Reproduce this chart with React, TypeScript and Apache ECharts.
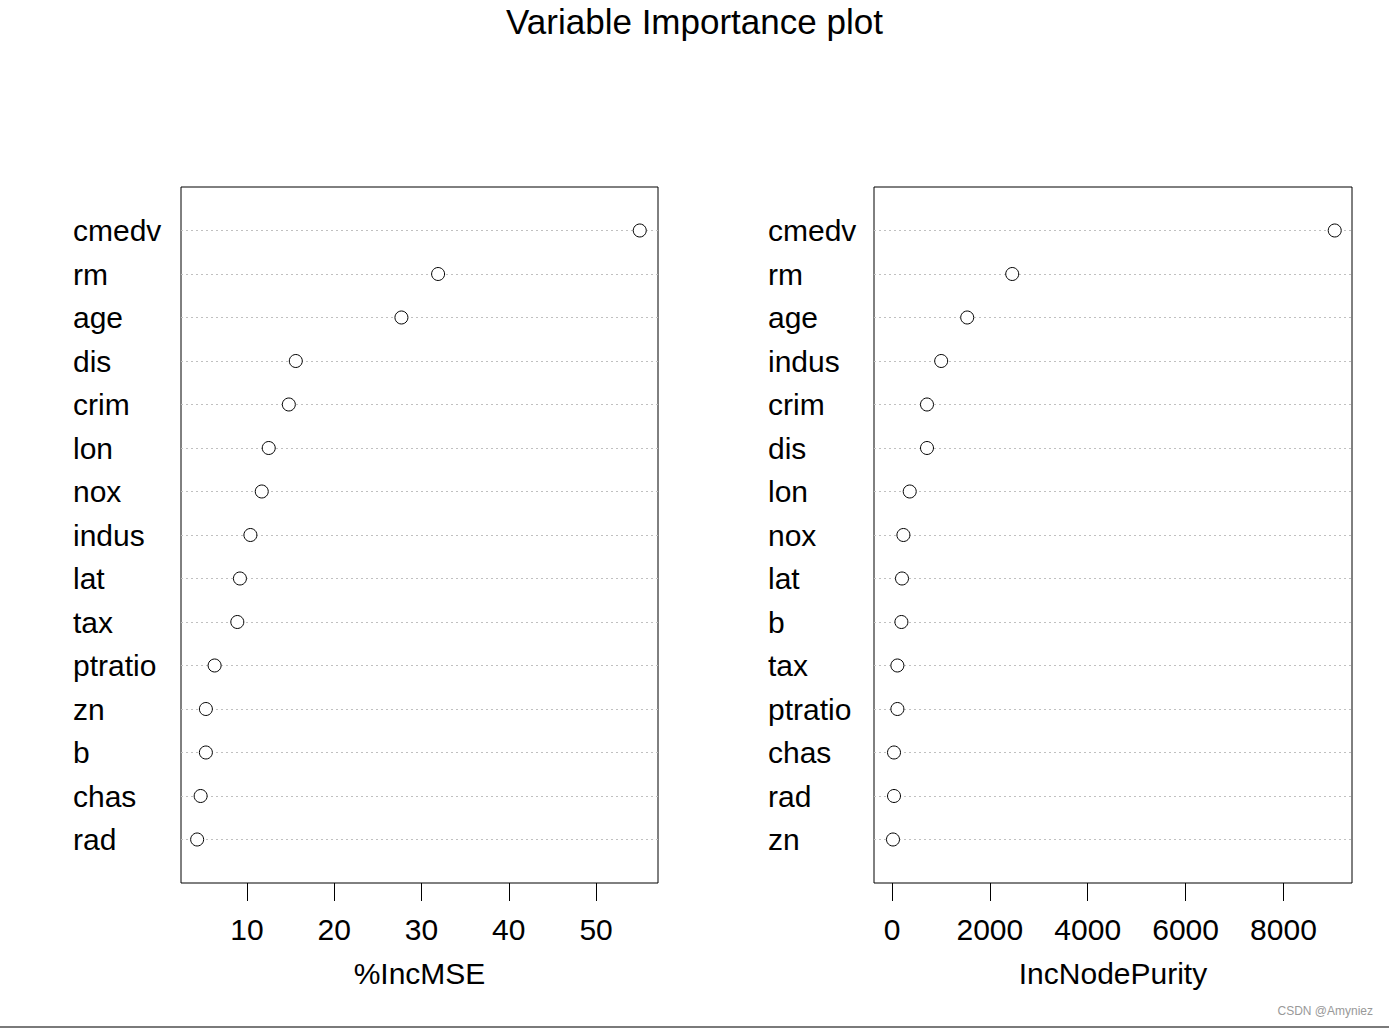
import React, { useEffect, useRef } from "react";
import * as echarts from "echarts";

const leftNames = ["cmedv", "rm", "age", "dis", "crim", "lon", "nox", "indus", "lat", "tax", "ptratio", "zn", "b", "chas", "rad"];
const leftValues = [55.0, 31.9, 27.7, 15.6, 14.8, 12.5, 11.7, 10.4, 9.2, 8.9, 6.3, 5.3, 5.3, 4.7, 4.3];
const rightNames = ["cmedv", "rm", "age", "indus", "crim", "dis", "lon", "nox", "lat", "b", "tax", "ptratio", "chas", "rad", "zn"];
const rightValues = [9048, 2457, 1537, 1005, 715, 715, 362, 233, 204, 192, 110, 110, 41, 41, 20];
const leftTicks = [10, 20, 30, 40, 50];
const rightTicks = [0, 2000, 4000, 6000, 8000];
const leftTitle = "%IncMSE";
const rightTitle = "IncNodePurity";
const mainTitle = "Variable Importance plot";

const FONT = "Liberation Sans, Arial, sans-serif";

function xAxisCfg(grid: number, min: number, max: number, ticks: number[], name: string) {
  return {
    type: "value",
    gridIndex: grid,
    min,
    max,
    name,
    nameLocation: "middle",
    nameGap: 75,
    nameTextStyle: { fontSize: 30, color: "#000", fontFamily: FONT, lineHeight: 30 },
    axisLine: { show: false },
    splitLine: { show: false },
    axisTick: { show: true, length: 18, customValues: ticks, lineStyle: { color: "#000", width: 1 } },
    axisLabel: {
      customValues: ticks,
      fontSize: 30,
      color: "#000",
      fontFamily: FONT,
      margin: 31,
      lineHeight: 30,
      formatter: (v: number) => String(v),
    },
  };
}

function yAxisCfg(grid: number, names: string[], margin: number) {
  return {
    type: "value",
    gridIndex: grid,
    min: 0,
    max: 16,
    interval: 1,
    axisLine: { show: false },
    axisTick: { show: false },
    splitLine: {
      show: true,
      showMinLine: false,
      showMaxLine: false,
      lineStyle: { color: "#c0c0c0", type: [2, 3], width: 1 },
    },
    axisLabel: {
      align: "left",
      margin,
      fontSize: 30,
      color: "#000",
      fontFamily: FONT,
      lineHeight: 30,
      padding: [7, 0, 0, 0],
      formatter: (v: number) => (v >= 1 && v <= 15 ? names[15 - v] : ""),
    },
  };
}

function seriesCfg(idx: number, values: number[]) {
  return {
    type: "scatter",
    xAxisIndex: idx,
    yAxisIndex: idx,
    symbol: "circle",
    symbolSize: 13,
    itemStyle: { color: "#fff", borderColor: "#000", borderWidth: 1, opacity: 1 },
    emphasis: { disabled: true },
    data: values.map((v, i) => [v, 15 - i]),
  };
}

export default function App() {
  const ref = useRef<HTMLDivElement>(null);
  useEffect(() => {
    if (!ref.current) return;
    const chart = echarts.init(ref.current, undefined, { renderer: "svg" });
    chart.setOption({
      animation: false,
      backgroundColor: "#fff",
      title: {
        text: mainTitle,
        left: "center",
        top: -1,
        textStyle: { fontSize: 35, fontWeight: "normal", color: "#000", fontFamily: FONT, lineHeight: 35 },
      },
      grid: [
        { left: 181, top: 187, width: 477, height: 696, show: true, borderColor: "#000", borderWidth: 1, backgroundColor: "transparent" },
        { left: 874, top: 187, width: 478, height: 696, show: true, borderColor: "#000", borderWidth: 1, backgroundColor: "transparent" },
      ],
      xAxis: [
        xAxisCfg(0, 2.45, 57.09, leftTicks, leftTitle),
        xAxisCfg(1, -368, 9401, rightTicks, rightTitle),
      ],
      yAxis: [yAxisCfg(0, leftNames, 108), yAxisCfg(1, rightNames, 106)],
      series: [seriesCfg(0, leftValues), seriesCfg(1, rightValues)],
      graphic: [
        { type: "rect", shape: { x: 0, y: 1026, width: 1389, height: 2 }, style: { fill: "#7a7a7a" }, silent: true },
        {
          type: "text",
          right: 16,
          top: 1005,
          style: { text: "CSDN @Amyniez", fontSize: 12, fill: "#999", fontFamily: FONT },
          silent: true,
        },
      ],
    });
    return () => chart.dispose();
  }, []);
  return <div ref={ref} style={{ position: "absolute", left: 0, top: 0, width: 1389, height: 1028 }} />;
}
